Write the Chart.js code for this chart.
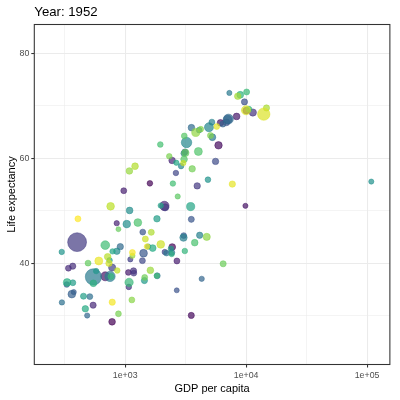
<!DOCTYPE html>
<html>
<head>
<meta charset="utf-8">
<script src="https://cdn.jsdelivr.net/npm/chart.js@4.4.1/dist/chart.umd.min.js"></script>
<style>
  html, body { margin: 0; padding: 0; background: #ffffff; }
  canvas { display: block; }
</style>
</head>
<body>
<canvas id="grafico" width="400" height="400"></canvas>
<script>
// Datos del año 1952 (orden alfabético de países, como el factor original)
const paises = ["Afghanistan", "Albania", "Algeria", "Angola", "Argentina", "Australia", "Austria", "Bahrain", "Bangladesh", "Belgium",
  "Benin", "Bolivia", "Bosnia and Herzegovina", "Botswana", "Brazil", "Bulgaria", "Burkina Faso", "Burundi", "Cambodia", "Cameroon",
  "Canada", "Central African Republic", "Chad", "Chile", "China", "Colombia", "Comoros", "Congo, Dem. Rep.", "Congo, Rep.", "Costa Rica",
  "Cote d'Ivoire", "Croatia", "Cuba", "Czech Republic", "Denmark", "Djibouti", "Dominican Republic", "Ecuador", "Egypt", "El Salvador",
  "Equatorial Guinea", "Eritrea", "Ethiopia", "Finland", "France", "Gabon", "Gambia", "Germany", "Ghana", "Greece",
  "Guatemala", "Guinea", "Guinea-Bissau", "Haiti", "Honduras", "Hong Kong, China", "Hungary", "Iceland", "India", "Indonesia",
  "Iran", "Iraq", "Ireland", "Israel", "Italy", "Jamaica", "Japan", "Jordan", "Kenya", "Korea, Dem. Rep.",
  "Korea, Rep.", "Kuwait", "Lebanon", "Lesotho", "Liberia", "Libya", "Madagascar", "Malawi", "Malaysia", "Mali",
  "Mauritania", "Mauritius", "Mexico", "Mongolia", "Montenegro", "Morocco", "Mozambique", "Myanmar", "Namibia", "Nepal",
  "Netherlands", "New Zealand", "Nicaragua", "Niger", "Nigeria", "Norway", "Oman", "Pakistan", "Panama", "Paraguay",
  "Peru", "Philippines", "Poland", "Portugal", "Puerto Rico", "Reunion", "Romania", "Rwanda", "Sao Tome and Principe", "Saudi Arabia",
  "Senegal", "Serbia", "Sierra Leone", "Singapore", "Slovak Republic", "Slovenia", "Somalia", "South Africa", "Spain", "Sri Lanka",
  "Sudan", "Swaziland", "Sweden", "Switzerland", "Syria", "Taiwan", "Tanzania", "Thailand", "Togo", "Trinidad and Tobago",
  "Tunisia", "Turkey", "Uganda", "United Kingdom", "United States", "Uruguay", "Venezuela", "Vietnam", "West Bank and Gaza", "Yemen, Rep.",
  "Zambia", "Zimbabwe"];

const esperanza = [28.801, 55.23, 43.077, 30.015, 62.485, 69.12, 66.8, 50.939, 37.484, 68.0,
  38.223, 40.414, 53.82, 47.622, 50.917, 59.6, 31.975, 39.031, 39.417, 38.523,
  68.75, 35.463, 38.092, 54.745, 44.0, 50.643, 40.715, 39.143, 42.111, 57.206,
  40.477, 61.21, 59.421, 66.87, 70.78, 34.812, 45.928, 48.357, 41.893, 45.262,
  34.482, 35.928, 34.078, 66.55, 67.41, 37.003, 30.0, 67.5, 43.149, 65.86,
  42.023, 33.609, 32.5, 37.579, 41.912, 60.96, 64.03, 72.49, 37.373, 37.468,
  44.869, 45.32, 66.91, 65.39, 65.94, 58.53, 63.03, 43.158, 42.27, 50.056,
  47.453, 55.565, 55.928, 42.138, 38.48, 42.723, 36.681, 36.256, 48.463, 33.685,
  40.543, 50.986, 50.789, 42.244, 59.164, 42.873, 31.286, 36.319, 41.725, 36.157,
  72.13, 69.39, 42.314, 37.444, 36.324, 72.67, 37.578, 43.436, 55.191, 62.649,
  43.902, 47.752, 61.31, 59.82, 64.28, 52.724, 61.05, 40.0, 46.471, 39.875,
  37.278, 57.996, 30.331, 60.396, 64.36, 65.57, 32.978, 45.009, 64.94, 57.593,
  38.635, 41.407, 71.86, 69.62, 45.883, 58.5, 41.215, 50.848, 38.596, 59.1,
  44.6, 43.585, 39.978, 69.18, 68.44, 66.071, 55.088, 40.412, 43.16, 32.548,
  42.038, 48.451];

const poblacion = [8425333, 1282697, 9279525, 4232095, 17876956, 8691212, 6927772, 120447, 46886859, 8730405,
  1738315, 2883315, 2791000, 442308, 56602560, 7274900, 4469979, 2445618, 4693836, 5009067,
  14785584, 1291695, 2682462, 6377619, 556263527, 12350771, 153936, 14100005, 854885, 926317,
  2977019, 3882229, 6007797, 9125183, 4334000, 63149, 2491346, 3548753, 22223309, 2042865,
  216964, 1438760, 20860941, 4090500, 42459667, 420702, 284320, 69145952, 5581001, 7733250,
  3146381, 2664249, 580653, 3201488, 1517453, 2125900, 9504000, 147962, 372000000, 82052000,
  17272000, 5441766, 2952156, 1620914, 47666000, 1426095, 86459025, 607914, 6464046, 8865488,
  20947571, 160000, 1439529, 748747, 863308, 1019729, 4762912, 2917802, 6748378, 3838168,
  1022556, 516556, 30144317, 800663, 413834, 9939217, 6446316, 20092996, 485831, 9182536,
  10381988, 1994794, 1165790, 3379468, 33119096, 3327728, 507833, 41346560, 940080, 1555876,
  8025700, 22438691, 25730551, 8526050, 2227000, 257700, 16630000, 2534927, 60011, 4005677,
  2755589, 6860147, 2143249, 1127000, 3558137, 1489518, 2526994, 14264935, 28549870, 7982342,
  8504667, 290243, 7124673, 4815000, 3661549, 8550362, 8322925, 21289402, 1219113, 662850,
  3647735, 22235677, 5824797, 50430000, 157553000, 2252965, 5439568, 26246839, 1030585, 4963829,
  2672000, 3080907];

const pib = [779.45, 1601.06, 2449.01, 3520.61, 5911.32, 10039.60, 6137.08, 9867.08, 684.24, 8343.11,
  1062.75, 2677.33, 973.53, 851.24, 2108.94, 2444.29, 543.26, 339.30, 368.47, 1172.67,
  11367.16, 1071.31, 1178.67, 3939.98, 400.45, 2144.12, 1102.99, 780.54, 2125.62, 2627.01,
  1388.59, 3119.24, 5586.54, 6876.14, 9692.39, 2669.53, 1397.72, 3522.11, 1418.82, 3048.30,
  375.64, 328.94, 362.15, 6424.52, 7029.81, 4293.48, 485.23, 7144.11, 911.30, 3530.69,
  2428.24, 510.20, 299.85, 1840.37, 2194.93, 3054.42, 5263.67, 7267.69, 546.57, 749.68,
  3035.33, 4129.77, 5210.28, 4086.52, 4931.40, 2898.53, 3216.96, 1546.91, 853.54, 1088.28,
  1030.59, 108382.35, 4834.80, 298.85, 575.57, 2387.55, 1443.01, 369.17, 1831.13, 452.34,
  743.12, 1967.96, 3478.13, 786.57, 2647.59, 1688.20, 468.53, 331.00, 2423.78, 545.87,
  8941.57, 10556.58, 3112.36, 761.88, 1077.28, 10095.42, 1828.23, 684.60, 2480.38, 1952.31,
  3758.52, 1272.88, 4029.33, 3068.32, 3081.96, 2718.89, 3144.61, 493.32, 879.58, 6459.55,
  1450.36, 3581.46, 879.79, 2315.14, 5074.66, 4215.04, 1135.75, 4725.30, 3834.03, 1083.53,
  1615.99, 1148.38, 8527.84, 14734.23, 1643.49, 1206.95, 716.65, 757.80, 859.81, 3023.27,
  1468.48, 1969.10, 734.75, 9979.51, 13990.48, 5716.77, 7689.80, 605.07, 1515.59, 781.72,
  1147.39, 406.88];

// Marcas de los ejes
const ticksX = [1e3, 1e4, 1e5];
const etiquetasX = ["1e+03", "1e+04", "1e+05"];
const ticksXMenores = [316.23, 3162.28, 31622.78];
const ticksY = [40, 60, 80];
const ticksYMenores = [30, 50, 70];

// Límites de las escalas (todos los años del conjunto original)
const limitesX = [177.3, 154400];
const limitesY = [20.65, 85.55];
const limitesPob = [60011, 1318683096];

const viridis = ["#440154", "#482576", "#414487", "#35608D", "#2A788E", "#21908C",
  "#22A884", "#43BF71", "#7AD151", "#BBDF27", "#FDE725"];

const FUENTE = "'Liberation Sans', Arial, sans-serif";

function hexARgb(h) {
  return [parseInt(h.slice(1, 3), 16), parseInt(h.slice(3, 5), 16), parseInt(h.slice(5, 7), 16)];
}

// Interpola la paleta viridis para t en [0, 1]
function colorViridis(t, alfa) {
  const p = t * (viridis.length - 1);
  const i = Math.min(Math.floor(p), viridis.length - 2);
  const f = p - i;
  const a = hexARgb(viridis[i]);
  const b = hexARgb(viridis[i + 1]);
  const c = a.map((v, k) => Math.round(v + (b[k] - v) * f));
  return `rgba(${c[0]}, ${c[1]}, ${c[2]}, ${alfa})`;
}

// Tamaño por área (rango 2-12) convertido a radio en píxeles
function radio(pob) {
  const tam = 2 + 10 * Math.sqrt((pob - limitesPob[0]) / (limitesPob[1] - limitesPob[0]));
  return 0.375 * (tam * 2.845276 + 0.945);
}

const colores = paises.map((_, i) => colorViridis(i / (paises.length - 1), 0.7));
const puntos = pib.map((x, i) => ({ x: x, y: esperanza[i] }));

// Marco del panel y título
const marcoPanel = {
  id: "marcoPanel",
  afterDraw(chart) {
    const { ctx, chartArea: a } = chart;
    ctx.save();
    ctx.strokeStyle = "#333333";
    ctx.lineWidth = 1.07;
    ctx.strokeRect(a.left, a.top, a.right - a.left, a.bottom - a.top);
    ctx.fillStyle = "#000000";
    ctx.font = `13.2px ${FUENTE}`;
    ctx.textAlign = "left";
    ctx.textBaseline = "middle";
    ctx.fillText("Year: 1952", a.left, 12.5);
    ctx.restore();
  }
};

const esMayorX = (v) => ticksX.some((t) => Math.abs(t - v) / t < 1e-6);
const esMayorY = (v) => ticksY.includes(v);

new Chart(document.getElementById("grafico").getContext("2d"), {
  type: "scatter",
  data: {
    datasets: [{
      label: "Países",
      data: puntos,
      backgroundColor: colores,
      borderColor: colores,
      borderWidth: 0.7,
      pointRadius: (c) => radio(poblacion[c.dataIndex]),
      pointHoverRadius: (c) => radio(poblacion[c.dataIndex])
    }]
  },
  options: {
    responsive: false,
    animation: false,
    devicePixelRatio: 1,
    layout: { padding: { top: 24.5, right: 5.6, bottom: 0, left: 0 } },
    plugins: {
      legend: { display: false },
      tooltip: { enabled: false }
    },
    scales: {
      x: {
        type: "logarithmic",
        min: limitesX[0],
        max: limitesX[1],
        afterBuildTicks: (s) => {
          s.ticks = ticksXMenores.concat(ticksX).sort((a, b) => a - b).map((v) => ({ value: v }));
        },
        afterFit: (s) => { s.height = 35.5; },
        ticks: {
          autoSkip: false,
          maxRotation: 0,
          padding: 3,
          color: "#4D4D4D",
          font: { family: FUENTE, size: 8.8 },
          callback: (v) => {
            const i = ticksX.findIndex((t) => Math.abs(t - v) / t < 1e-6);
            return i >= 0 ? etiquetasX[i] : "";
          }
        },
        grid: {
          color: "#EBEBEB",
          lineWidth: (c) => (c.tick && esMayorX(c.tick.value) ? 1.07 : 0.55),
          tickColor: (c) => (c.tick && esMayorX(c.tick.value) ? "#333333" : "rgba(0,0,0,0)"),
          tickWidth: 1.07,
          tickLength: 3
        },
        border: { display: false },
        title: {
          display: true,
          text: "GDP per capita",
          color: "#000000",
          font: { family: FUENTE, size: 11 },
          padding: { top: 0, bottom: 4.1 }
        }
      },
      y: {
        type: "linear",
        min: limitesY[0],
        max: limitesY[1],
        afterBuildTicks: (s) => {
          s.ticks = ticksYMenores.concat(ticksY).sort((a, b) => a - b).map((v) => ({ value: v }));
        },
        afterFit: (s) => { s.width = 34.3; },
        ticks: {
          autoSkip: false,
          padding: 2,
          color: "#4D4D4D",
          font: { family: FUENTE, size: 8.8 },
          callback: (v) => (esMayorY(v) ? String(v) : "")
        },
        grid: {
          color: "#EBEBEB",
          lineWidth: (c) => (c.tick && esMayorY(c.tick.value) ? 1.07 : 0.55),
          tickColor: (c) => (c.tick && esMayorY(c.tick.value) ? "#333333" : "rgba(0,0,0,0)"),
          tickWidth: 1.07,
          tickLength: 3
        },
        border: { display: false },
        title: {
          display: true,
          text: "Life expectancy",
          color: "#000000",
          font: { family: FUENTE, size: 11 },
          padding: { top: 5.4, bottom: 0 }
        }
      }
    }
  },
  plugins: [marcoPanel]
});
</script>
</body>
</html>
